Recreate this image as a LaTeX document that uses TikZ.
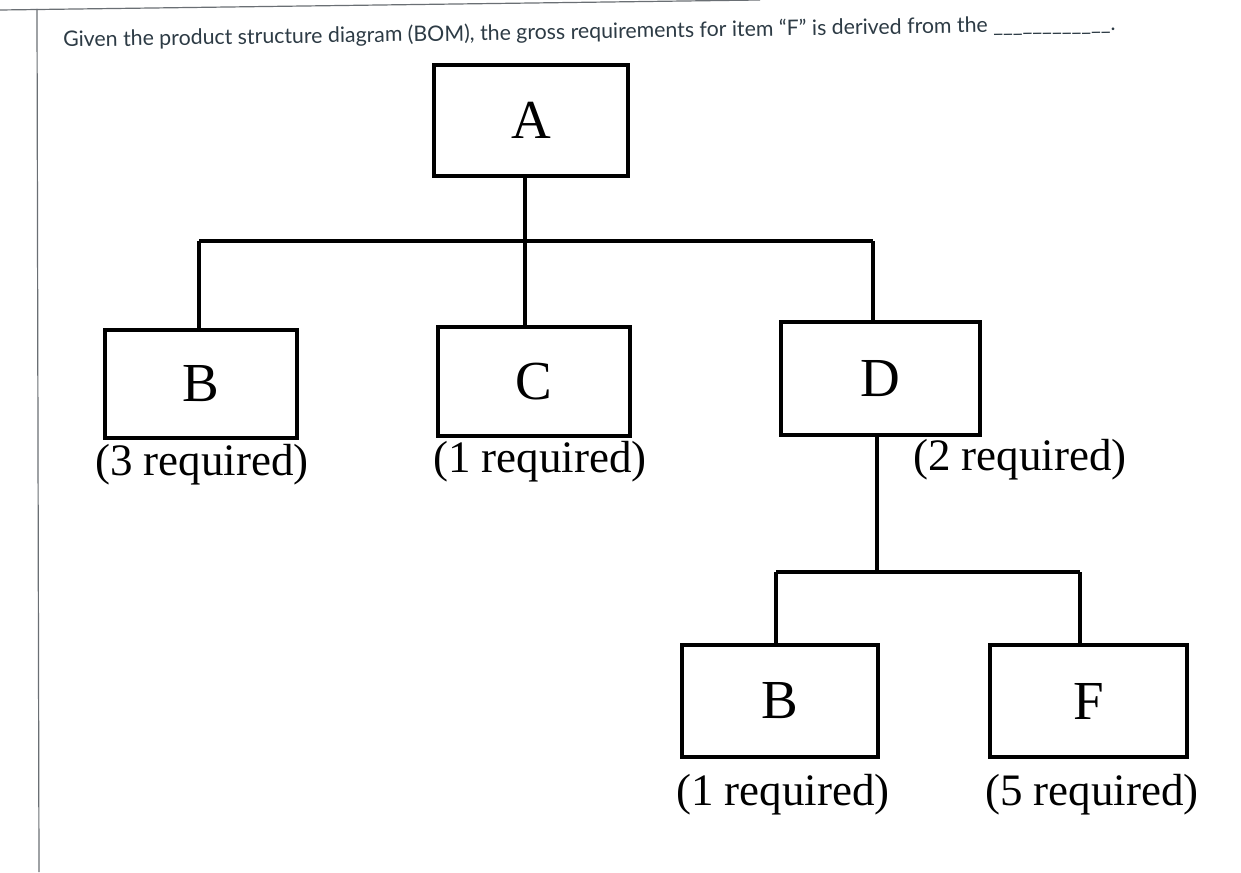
\documentclass[tikz,border=0pt]{standalone}
\usepackage{fontspec}
\setmainfont{Liberation Serif}
\newfontfamily\latofont{Lato}
\definecolor{titlecol}{HTML}{2D3B45}
\definecolor{edgecol}{HTML}{6A6F74}
\begin{document}
\begin{tikzpicture}[x=0.5pt,y=-0.5pt,
  itembox/.style={draw=black,line width=1.75pt,inner sep=0pt,font=\fontsize{27.5}{30}\selectfont},
  qtylabel/.style={inner sep=0pt,font=\fontsize{22.5}{26}\selectfont},
  conn/.style={draw=black,line width=1.75pt}]
\useasboundingbox[fill=white] (0,0) rectangle (1241,872);
% screen edges
\draw[edgecol,line width=0.6pt] (0,10) -- (760,0);
\draw[edgecol,line width=0.6pt] (37,9) -- (39,872);
% title
\node[anchor=base west,inner sep=0pt,rotate=0.9,text=titlecol,font=\latofont\fontsize{10.65}{13}\selectfont] (title) at (63,47)
  {Given the product structure diagram (BOM), the gross requirements for item “F” is derived from the \_\_\_\_\_\_\_\_\_\_\_\_.};
% boxes
\node[itembox,minimum width=97pt,minimum height=55.5pt] (A) at (531,120.5) {A};
\node[itembox,minimum width=96pt,minimum height=54pt] (B1) at (201,384) {B};
\node[itembox,minimum width=96pt,minimum height=54.5pt] (C) at (534,381.5) {C};
\node[itembox,minimum width=99.5pt,minimum height=56.5pt] (D) at (880.5,378.5) {D};
\node[itembox,minimum width=98pt,minimum height=56pt] (B2) at (780,701) {B};
\node[itembox,minimum width=98.5pt,minimum height=56pt] (F) at (1088.5,701) {F};
% labels
\node[qtylabel] (lB1) at (202,465) {(3 required)};
\node[qtylabel] (lC) at (540,462) {(1 required)};
\node[qtylabel] (lD) at (1020,460) {(2 required)};
\node[qtylabel] (lB2) at (783,795) {(1 required)};
\node[qtylabel] (lF) at (1092,795) {(5 required)};
% connectors
\coordinate (jA) at (525,241);
\coordinate (jB) at (199,241);
\coordinate (jD) at (873,241);
\draw[conn] (jA |- A.south) -- (jA);
\draw[conn] (jB) -- (jD);
\draw[conn] (jB) -- (jB |- B1.north);
\draw[conn] (jA) -- (jA |- C.north);
\draw[conn] (jD) -- (jD |- D.north);
\coordinate (jD2) at (877,572);
\coordinate (jB2) at (776,572);
\coordinate (jF) at (1080,572);
\draw[conn] (jD2 |- D.south) -- (jD2);
\draw[conn] (jB2) -- (jF);
\draw[conn] (jB2) -- (jB2 |- B2.north);
\draw[conn] (jF) -- (jF |- F.north);
\end{tikzpicture}
\end{document}
